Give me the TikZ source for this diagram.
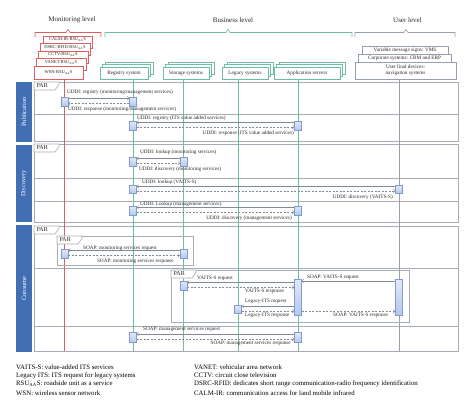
\documentclass[tikz,border=0pt]{standalone}
\usepackage{fontspec}
\setmainfont{Liberation Serif}
\usetikzlibrary{arrows.meta}
\definecolor{redc}{RGB}{222,95,95}
\definecolor{greenc}{RGB}{112,190,160}
\definecolor{grayc}{RGB}{150,160,172}
\definecolor{framec}{RGB}{165,172,182}
\definecolor{bluebar}{RGB}{66,110,180}
\definecolor{actfill}{RGB}{180,200,238}
\definecolor{actdraw}{RGB}{130,155,205}
\definecolor{msgc}{RGB}{130,138,150}
\definecolor{txtc}{RGB}{40,40,40}
\begin{document}
\begin{tikzpicture}[x=1pt,y=-1pt,
  lbl/.style={font=\fontsize{5.2}{6}\selectfont, text=txtc, inner sep=0pt},
  boxlbl/.style={font=\fontsize{5.2}{6}\selectfont, text=txtc, inner sep=0pt, align=center},
  redlbl/.style={font=\fontsize{4.5}{5}\selectfont, text=txtc, inner sep=0pt},
  lvl/.style={font=\fontsize{7}{8}\selectfont, text=txtc, inner sep=0pt},
  leg/.style={font=\fontsize{6.8}{8}\selectfont, text=black, inner sep=0pt, anchor=west},
  actbox/.style={draw=actdraw, top color=actfill!40!white, bottom color=actfill, minimum width=7pt, inner sep=0pt, line width=0.4pt},
  msgreq/.style={draw=msgc, line width=0.4pt, -{Straight Barb[length=1.8pt,width=3.6pt]}},
  msgresp/.style={msgreq, dash pattern=on 2pt off 1.5pt},
  framebox/.style={draw=framec, line width=0.8pt},
  sidebar/.style={fill=bluebar, text=white, rotate=90, font=\fontsize{6.5}{7}\selectfont, minimum height=16pt, inner sep=0pt},
  life/.style={line width=0.6pt},
  redbox/.style={draw=redc, fill=white, line width=0.6pt},
  greenbox/.style={draw=greenc, fill=white, line width=0.6pt},
  graybox/.style={draw=grayc, fill=white, line width=0.6pt},
  partag/.pic={\draw[framec, line width=0.6pt, fill=white] (0,0) -- (25,0) -- (25,2.5) -- (21,8) -- (0,8) -- cycle;
               \node[font=\fontsize{6}{7}\selectfont, text=txtc, inner sep=0pt, anchor=west] at (2.5,4) {PAR};},
]
\useasboundingbox (0,0) rectangle (474,415);

% ---------- level titles and brackets ----------
\node[lvl] (tmon) at (72,20) {Monitoring level};
\node[lvl] (tbus) at (233,20) {Business level};
\node[lvl] (tusr) at (407.5,20) {User level};
\draw[redc, line width=0.6pt] (35,37) -- (35,32.5) -- (66,32.5) -- (68,29.5) -- (70,32.5) -- (101,32.5) -- (101,37);
\draw[greenc, line width=0.6pt] (105,37) -- (105,32.5) -- (226,32.5) -- (228,29.5) -- (230,32.5) -- (352,32.5) -- (352,37);
\draw[grayc, line width=0.6pt] (355,37) -- (355,32.5) -- (404,32.5) -- (406,29.5) -- (408,32.5) -- (455,32.5) -- (455,37);

% ---------- monitoring stack ----------
\draw[redbox] (43,36) rectangle (92,48);
\node[redlbl] at (67.5,40) {CALM-IR-RSU\textsubscript{AA}S};
\draw[redbox] (40,43.5) rectangle (90,55.5);
\node[redlbl] at (65,47.5) {DSRC-RFID-RSU\textsubscript{AA}S};
\draw[redbox] (38,51) rectangle (88,63);
\node[redlbl] at (63,55) {CCTV-RSU\textsubscript{AA}S};
\draw[redbox] (36,58.5) rectangle (86,70.5);
\node[redlbl] at (61,62.5) {VANET-RSU\textsubscript{AA}S};
\draw[redbox] (34,66) rectangle (83,79);
\node[redlbl] (wsn) at (58.5,72.5) {WSN-RSU\textsubscript{AA}S};

% ---------- business stacks ----------
\foreach \xa/\xb in {100/148,163/209,222/268,274/340}{
  \draw[greenbox] (\xa+5,62) rectangle (\xb+5,74);
  \draw[greenbox] (\xa+2.5,64.5) rectangle (\xb+2.5,76.5);
  \draw[greenbox] (\xa,67) rectangle (\xb,79);
}
\node[boxlbl] (reg) at (124,73) {Registry system};
\node[boxlbl] (sto) at (186,73) {Storage systems};
\node[boxlbl] (leg) at (245,73) {Legacy systems};
\node[boxlbl] (app) at (307,73) {Application servers};

% ---------- user stack ----------
\draw[graybox] (362,46.5) rectangle (448,58);
\node[boxlbl] at (405,50.5) {Variable message signs: VMS};
\draw[graybox] (358,54) rectangle (451,66);
\node[boxlbl] at (404.5,58) {Corporate systems: CRM and ERP};
\draw[graybox] (355,62) rectangle (456,79);
\node[boxlbl] (ufd) at (405.5,70.5) {User final devices:\\navigation systems};

% ---------- side bars ----------
\node[sidebar, minimum width=60pt] (pub) at (24,112) {Publication};
\node[sidebar, minimum width=77pt] (dis) at (24,183.5) {Discovery};
\node[sidebar, minimum width=127pt] (con) at (24,288.5) {Consume};

% ---------- frames ----------
\draw[framebox] (34,82) rectangle (458,141.5);
\draw[framebox] (34,114) -- (458,114);
\draw[framebox] (34,144) rectangle (458,222);
\draw[framebox] (34,178) -- (458,178);
\draw[framebox] (34,201) -- (458,201);
\draw[framebox] (34,226) rectangle (458,351);
\draw[framebox] (34,268) -- (458,268);
\draw[framebox] (34,326) -- (458,326);

% ---------- lifelines ----------
\coordinate (bot) at (0,351);
\coordinate (monL) at (64.5,79);
\coordinate (regL) at (133,79);
\coordinate (stoL) at (183.5,79);
\coordinate (legL) at (238,79);
\coordinate (appL) at (298,79);
\coordinate (usrL) at (399,79);
\draw[life, redc] (monL) -- (monL |- bot);
\draw[life, greenc] (regL) -- (regL |- bot);
\draw[life, greenc] (stoL) -- (stoL |- bot);
\draw[life, greenc] (legL) -- (legL |- bot);
\draw[life, greenc] (appL) -- (appL |- bot);
\draw[life, grayc] (usrL) -- (usrL |- bot);

% ---------- inner PAR boxes ----------
\draw[framebox] (57,236) rectangle (193,265);
\draw[framebox] (171,270) rectangle (409,322);
\pic at (34,82) {partag};
\pic at (34,144) {partag};
\pic at (34,226) {partag};
\pic at (57,236) {partag};
\pic at (171,270) {partag};

% ---------- activations ----------
\node[actbox, minimum height=9pt] (pm1) at (64.5,101.5) {};
\node[actbox, minimum height=9pt] (pr1) at (133,101.5) {};
\node[actbox, minimum height=9pt] (pr2) at (133,125.5) {};
\node[actbox, minimum height=9pt] (pa2) at (298,125.5) {};
\node[actbox, minimum height=9pt] (dr1) at (133,161.5) {};
\node[actbox, minimum height=9pt] (ds1) at (183.5,161.5) {};
\node[actbox, minimum height=8pt] (dr2) at (133,189) {};
\node[actbox, minimum height=8pt] (du2) at (399,189) {};
\node[actbox, minimum height=9pt] (dr3) at (133,210.5) {};
\node[actbox, minimum height=9pt] (da3) at (298,210.5) {};
\node[actbox, minimum height=9pt] (cm1) at (64.5,253.5) {};
\node[actbox, minimum height=9pt] (cs1) at (183.5,253.5) {};
\node[actbox, minimum height=9pt] (cs2) at (183.5,285.5) {};
\node[actbox, minimum height=36pt] (ca2) at (298,297) {};
\node[actbox, minimum height=36pt] (cu2) at (399,297) {};
\node[actbox, minimum height=8pt] (cl2) at (238,309) {};
\node[actbox, minimum height=10pt] (cr4) at (133,337.5) {};
\node[actbox, minimum height=10pt] (ca4) at (298,337.5) {};

% ---------- messages ----------
\draw[msgreq] ([yshift=-1.5pt]pm1.north east) -- ([yshift=-1.5pt]pr1.north west);
\draw[msgresp] ([yshift=3pt]pr1.south west) -- ([yshift=3pt]pm1.south east);
\draw[msgreq] ([yshift=-1.5pt]pa2.north west) -- ([yshift=-1.5pt]pr2.north east);
\draw[msgresp] ([yshift=3pt]pr2.south east) -- ([yshift=3pt]pa2.south west);
\draw[msgreq] ([yshift=-1.5pt]ds1.north west) -- ([yshift=-1.5pt]dr1.north east);
\draw[msgresp] ([yshift=3pt]dr1.south east) -- ([yshift=3pt]ds1.south west);
\draw[msgreq] ([yshift=-1.5pt]du2.north west) -- ([yshift=-1.5pt]dr2.north east);
\draw[msgresp] ([yshift=2.5pt]dr2.south east) -- ([yshift=2.5pt]du2.south west);
\draw[msgreq] ([yshift=-1.5pt]da3.north west) -- ([yshift=-1.5pt]dr3.north east);
\draw[msgresp] ([yshift=3pt]dr3.south east) -- ([yshift=3pt]da3.south west);
\draw[msgreq] ([yshift=-1.5pt]cs1.north west) -- ([yshift=-1.5pt]cm1.north east);
\draw[msgresp] ([yshift=3pt]cm1.south east) -- ([yshift=3pt]cs1.south west);
\coordinate (k1) at ([yshift=-1.5pt]cs2.north east);
\draw[msgreq] (k1 -| ca2.west) -- (k1);
\coordinate (k2) at ([yshift=-2pt]cu2.north west);
\draw[msgreq] (k2) -- (k2 -| ca2.east);
\coordinate (k3) at ([yshift=3pt]cs2.south east);
\draw[msgresp] (k3) -- (k3 -| ca2.west);
\coordinate (k4) at ([yshift=-1.5pt]cl2.north east);
\draw[msgreq] (k4 -| ca2.west) -- (k4);
\coordinate (k5) at ([yshift=2pt]cl2.south east);
\draw[msgresp] (k5) -- (k5 -| ca2.west);
\draw[msgresp] (k5 -| ca2.east) -- (k5 -| cu2.west);
\draw[msgreq] ([yshift=-1.5pt]ca4.north west) -- ([yshift=-1.5pt]cr4.north east);
\draw[msgresp] ([yshift=3.5pt]cr4.south east) -- ([yshift=3.5pt]ca4.south west);

% ---------- message labels ----------
\node[lbl, anchor=west] (l1) at (67,92) {UDDI: registry (monitoring/management services)};
\node[lbl, anchor=west] (l2) at (68,109.5) {UDDI: response (monitoring/management services)};
\node[lbl, anchor=west] (l3) at (137,118) {UDDI: registry (ITS value added services)};
\node[lbl, anchor=east] (l4) at (294,133.5) {UDDI: response (ITS value added services)};
\node[lbl, anchor=west] (l5) at (140,152) {UDDI: lookup (monitoring services)};
\node[lbl, anchor=west] (l6) at (139,169) {UDDI: discovery (monitoring services)};
\node[lbl, anchor=west] (l7) at (142,182.5) {UDDI: lookup (VAITS-S)};
\node[lbl, anchor=east] (l8) at (393,197) {UDDI: discovery (VAITS-S)};
\node[lbl, anchor=west] (l9) at (140,204) {UDDI: Lookup (management services)};
\node[lbl, anchor=east] (l10) at (292,218) {UDDI: discovery (management services)};
\node[lbl, anchor=west] (l11) at (83,248) {SOAP: monitoring services request};
\node[lbl, anchor=east] (l12) at (174,261) {SOAP: monitoring services response};
\node[lbl, anchor=west] (l13) at (197,278) {VAITS-S request};
\node[lbl, anchor=west] (l14) at (307,277) {SOAP: VAITS-S request};
\node[lbl, anchor=west] (l15) at (245,291) {VAITS-S response};
\node[lbl, anchor=west] (l16) at (245,301) {Legacy-ITS request};
\node[lbl, anchor=west] (l17) at (245,315.5) {Legacy-ITS response};
\node[lbl, anchor=west] (l18) at (333,315.5) {SOAP: VAITS-S response};
\node[lbl, anchor=west] (l19) at (143,329) {SOAP: management services request};
\node[lbl, anchor=east] (l20) at (291,343.5) {SOAP: management services response};

% ---------- legend ----------
\node[leg] (g1) at (16,367) {VAITS-S: value-added ITS services};
\node[leg] (g2) at (16,375.5) {Legacy ITS: ITS request for legacy systems};
\node[leg] (g3) at (16,384) {RSU\textsubscript{AA}S: roadside unit as a service};
\node[leg] (g4) at (16,393) {WSN: wireless sensor network};
\node[leg] (g5) at (194,367) {VANET: vehicular area network};
\node[leg] (g6) at (194,375.5) {CCTV: circuit close television};
\node[leg] (g7) at (194,384) {DSRC-RFID: dedicates short range communication-radio frequency identification};
\node[leg] (g8) at (194,393) {CALM-IR: communication access for land mobile infrared};
\end{tikzpicture}
\end{document}
